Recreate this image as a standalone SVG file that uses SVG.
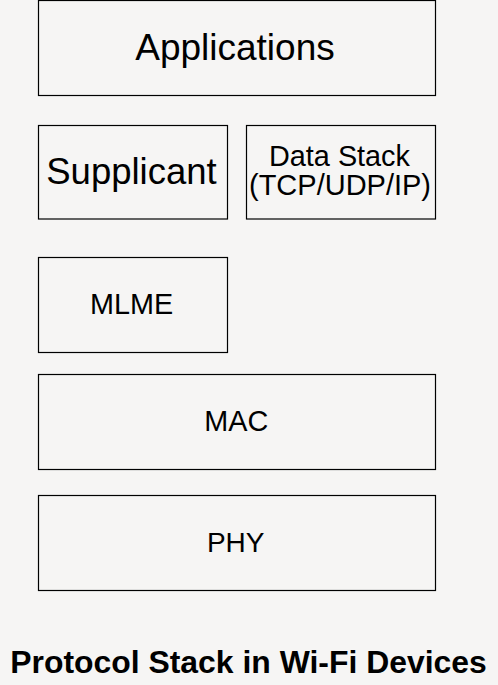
<svg xmlns="http://www.w3.org/2000/svg" width="498" height="685" viewBox="0 0 498 685">
<style>
.box{fill:#f6f5f4;stroke:#000;stroke-width:1.2}
.t{font-family:"Liberation Sans",Arial,sans-serif;fill:#000;text-anchor:middle}
</style>
<rect x="0" y="0" width="498" height="685" fill="#f6f5f4"/>
<g id="applications"><rect class="box" x="38.5" y="0.5" width="397" height="95"/><text class="t" x="235" y="60" font-size="37">Applications</text></g>
<g id="supplicant"><rect class="box" x="38.5" y="125.5" width="189" height="93.5"/><text class="t" x="131.5" y="184" font-size="36.5">Supplicant</text></g>
<g id="datastack"><rect class="box" x="246.5" y="125.5" width="189" height="93.5"/><text class="t" x="339.5" y="166" font-size="28.8">Data Stack</text><text class="t" x="340" y="195" font-size="29">(TCP/UDP/IP)</text></g>
<g id="mlme"><rect class="box" x="38.5" y="257.5" width="189" height="95"/><text class="t" x="131.7" y="313.5" font-size="28.8">MLME</text></g>
<g id="mac"><rect class="box" x="38.5" y="374.5" width="397" height="95"/><text class="t" x="236.3" y="431" font-size="28.8">MAC</text></g>
<g id="phy"><rect class="box" x="38.5" y="495.5" width="397" height="95"/><text class="t" x="235.7" y="552" font-size="28">PHY</text></g>
<g id="connectors"></g>
<text class="t" x="248.5" y="673" font-size="31.9" font-weight="bold">Protocol Stack in Wi-Fi Devices</text>
</svg>
